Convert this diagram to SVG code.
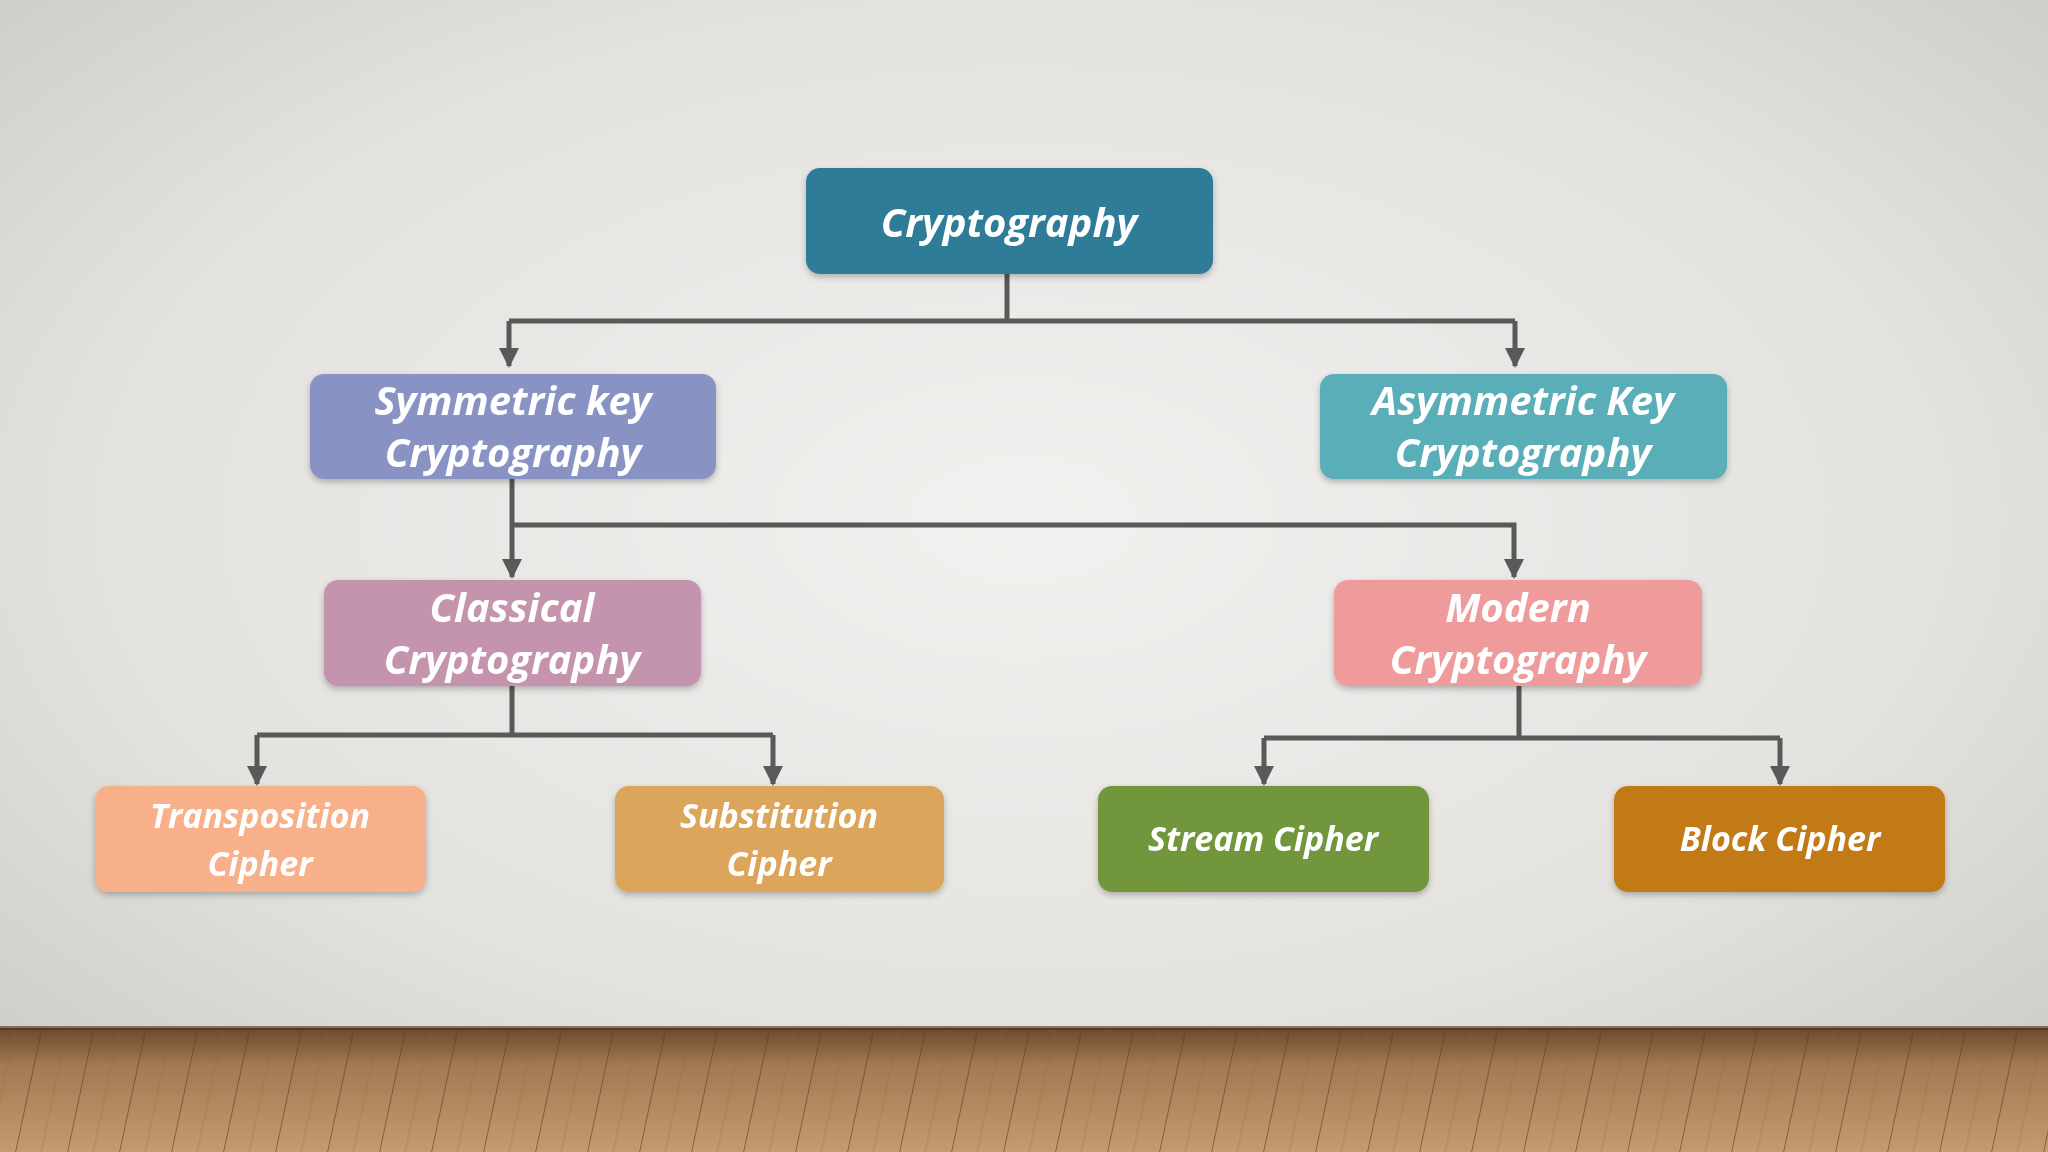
<svg xmlns="http://www.w3.org/2000/svg" width="2048" height="1152" viewBox="0 0 2048 1152">
<defs>
<radialGradient id="bg" cx="0.5" cy="0.45" r="0.75">
<stop offset="0" stop-color="#f2f1ef"/><stop offset="0.6" stop-color="#e4e2df"/><stop offset="1" stop-color="#c9c7c4"/>
</radialGradient>
<linearGradient id="wood" x1="0" y1="0" x2="0" y2="1">
<stop offset="0" stop-color="#6b4a2c"/><stop offset="0.3" stop-color="#a27a52"/><stop offset="1" stop-color="#c49c70"/>
</linearGradient>
<pattern id="planks" width="52" height="130" patternUnits="userSpaceOnUse" patternTransform="skewX(-12)">
<rect width="52" height="130" fill="none"/>
<line x1="0" y1="0" x2="0" y2="130" stroke="#5a3c22" stroke-width="2" opacity="0.6"/>
<line x1="26" y1="0" x2="26" y2="130" stroke="#8a6440" stroke-width="1" opacity="0.4"/>
</pattern>
<marker id="ah" viewBox="0 0 10 10" refX="9" refY="5" markerWidth="4" markerHeight="4" orient="auto">
<path d="M0,0 L10,5 L0,10 z" fill="#595959"/>
</marker>
<filter id="sh" x="-10%" y="-10%" width="120%" height="130%"><feDropShadow dx="0" dy="3" stdDeviation="3" flood-opacity="0.25"/></filter>
</defs>
<style>
.n{filter:url(#sh)}
.t{font-family:"Open Sans","Liberation Sans",sans-serif;font-style:italic;font-weight:bold;font-size:40px;fill:#fff;text-anchor:middle}
.s{font-size:34px}
.c{fill:none;stroke:#595959;stroke-width:5}
</style>
<rect width="2048" height="1152" fill="url(#bg)"/>
<rect y="1028" width="2048" height="124" fill="url(#wood)"/>
<rect y="1028" width="2048" height="124" fill="url(#planks)"/>
<rect y="1026" width="2048" height="4" fill="#4a3018" opacity="0.6"/>
<g id="connectors">
<path class="c" d="M1007,274 V321 M509,321 H1515"/>
<path class="c" d="M509,321 V366" marker-end="url(#ah)"/>
<path class="c" d="M1515,321 V366" marker-end="url(#ah)"/>
<path class="c" d="M512,479 V577" marker-end="url(#ah)"/>
<path class="c" d="M512,525 H1514 V577" marker-end="url(#ah)"/>
<path class="c" d="M512,686 V735 M257,735 H773"/>
<path class="c" d="M257,735 V784" marker-end="url(#ah)"/>
<path class="c" d="M773,735 V784" marker-end="url(#ah)"/>
<path class="c" d="M1519,686 V738 M1264,738 H1780"/>
<path class="c" d="M1264,738 V784" marker-end="url(#ah)"/>
<path class="c" d="M1780,738 V784" marker-end="url(#ah)"/>
</g>
<g id="cryptography" class="n"><rect x="806" y="168" width="407" height="106" rx="14" fill="#2e7b98"/><text class="t" x="1009" y="237" font-size="46">Cryptography</text></g>
<g id="symmetric" class="n"><rect x="310" y="374" width="406" height="105" rx="14" fill="#8893c4"/><text class="t" x="513" y="415">Symmetric key</text><text class="t" x="513" y="467">Cryptography</text></g>
<g id="asymmetric" class="n"><rect x="1320" y="374" width="407" height="105" rx="14" fill="#5aaeb8"/><text class="t" x="1523" y="415">Asymmetric Key</text><text class="t" x="1523" y="467">Cryptography</text></g>
<g id="classical" class="n"><rect x="324" y="580" width="377" height="106" rx="14" fill="#c493ae"/><text class="t" x="512" y="622">Classical</text><text class="t" x="512" y="674">Cryptography</text></g>
<g id="modern" class="n"><rect x="1334" y="580" width="368" height="106" rx="14" fill="#ef9b9b"/><text class="t" x="1518" y="622">Modern</text><text class="t" x="1518" y="674">Cryptography</text></g>
<g id="transposition" class="n"><rect x="95" y="786" width="331" height="106" rx="14" fill="#f7b08a"/><text class="t s" x="260" y="828">Transposition</text><text class="t s" x="260" y="876">Cipher</text></g>
<g id="substitution" class="n"><rect x="615" y="786" width="329" height="106" rx="14" fill="#dba55c"/><text class="t s" x="779" y="828">Substitution</text><text class="t s" x="779" y="876">Cipher</text></g>
<g id="stream" class="n"><rect x="1098" y="786" width="331" height="106" rx="14" fill="#71963a"/><text class="t s" x="1263" y="851">Stream Cipher</text></g>
<g id="block" class="n"><rect x="1614" y="786" width="331" height="106" rx="14" fill="#c27a16"/><text class="t s" x="1780" y="851">Block Cipher</text></g>
</svg>
